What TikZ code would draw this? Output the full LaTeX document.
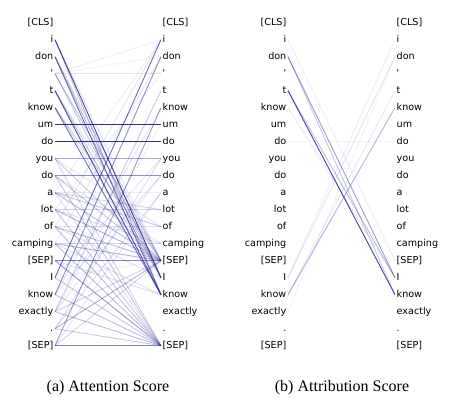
\documentclass[tikz,border=0pt]{standalone}
\usepackage{fontspec}
\setmainfont{Liberation Serif}
\setsansfont{DejaVu Sans}
\definecolor{lncol}{RGB}{35,35,150}
\tikzset{
  tokl/.style={anchor=east,inner sep=1.5pt,font=\sffamily\fontsize{9.6}{10}\selectfont,text height=7pt,text depth=2pt},
  tokr/.style={anchor=west,inner sep=1.5pt,font=\sffamily\fontsize{9.6}{10}\selectfont,text height=7pt,text depth=2pt},
  ln/.style={draw=lncol,line width=0.9pt},
  captxt/.style={font=\rmfamily\fontsize{16}{18}\selectfont,inner sep=0pt}
}
\newcommand\lnA[3]{\draw[ln,opacity=#3] (la#1.east) -- (ra#2.west);}
\newcommand\lnB[3]{\draw[ln,opacity=#3] (lb#1.east) -- (rb#2.west);}
\begin{document}
\begin{tikzpicture}[x=1pt,y=-1pt]
\fill[white] (0,0) rectangle (453,406);
\useasboundingbox (0,0) rectangle (453,406);
\foreach \t [count=\k from 0] in {[CLS],i,don,\textquotesingle,t,know,um,do,you,do,a,lot,of,camping,[SEP],I,know,exactly,.,[SEP]}{
  \node[tokl] (la\k) at (55,22.7+17*\k) {\t};
  \node[tokr] (ra\k) at (161,22.7+17*\k) {\t};
  \node[tokl] (lb\k) at (288,22.7+17*\k) {\t};
  \node[tokr] (rb\k) at (395,22.7+17*\k) {\t};
}
% ---- (a) attention score ----
\lnA{1}{15}{.85}\lnA{1}{16}{.3}\lnA{1}{14}{.12}
\lnA{2}{16}{.65}\lnA{2}{15}{.35}\lnA{2}{14}{.2}
\lnA{3}{14}{.3}\lnA{3}{15}{.25}\lnA{3}{1}{.08}\lnA{3}{2}{.06}\lnA{3}{3}{.12}
\lnA{4}{16}{.8}\lnA{4}{15}{.3}\lnA{4}{14}{.15}
\lnA{5}{16}{.65}\lnA{5}{14}{.25}\lnA{5}{15}{.15}
\lnA{6}{6}{.95}
\lnA{7}{7}{.95}
\lnA{8}{8}{.4}\lnA{8}{14}{.25}\lnA{8}{19}{.2}\lnA{8}{12}{.12}
\lnA{9}{9}{.5}\lnA{9}{14}{.25}\lnA{9}{19}{.25}\lnA{9}{13}{.12}
\lnA{10}{10}{.08}\lnA{10}{14}{.3}\lnA{10}{12}{.25}\lnA{10}{11}{.2}\lnA{10}{19}{.15}\lnA{10}{1}{.08}
\lnA{11}{11}{.2}\lnA{11}{14}{.35}\lnA{11}{19}{.25}\lnA{11}{13}{.15}\lnA{11}{3}{.08}
\lnA{12}{12}{.15}\lnA{12}{14}{.3}\lnA{12}{19}{.3}\lnA{12}{15}{.15}\lnA{12}{1}{.12}
\lnA{13}{13}{.2}\lnA{13}{14}{.35}\lnA{13}{19}{.3}\lnA{13}{16}{.15}\lnA{13}{2}{.1}
\lnA{14}{14}{.55}\lnA{14}{19}{.45}\lnA{14}{16}{.15}
\lnA{15}{1}{.65}\lnA{15}{19}{.25}\lnA{15}{8}{.12}\lnA{15}{14}{.08}
\lnA{16}{2}{.5}\lnA{16}{19}{.3}\lnA{16}{5}{.12}\lnA{16}{9}{.12}
\lnA{17}{4}{.25}\lnA{17}{19}{.3}\lnA{17}{14}{.2}\lnA{17}{9}{.12}\lnA{17}{6}{.08}
\lnA{18}{14}{.35}\lnA{18}{19}{.25}\lnA{18}{8}{.15}\lnA{18}{10}{.15}
\lnA{19}{19}{.55}\lnA{19}{5}{.45}\lnA{19}{14}{.2}\lnA{19}{10}{.12}
% ---- (b) attribution score ----
\lnB{2}{15}{.45}\lnB{2}{16}{.25}
\lnB{4}{16}{.85}\lnB{4}{15}{.3}
\lnB{1}{14}{.08}\lnB{5}{15}{.1}
\lnB{15}{1}{.08}\lnB{15}{2}{.12}
\lnB{16}{5}{.35}\lnB{16}{4}{.1}
\lnB{17}{2}{.06}\lnB{7}{7}{.06}
% ---- captions ----
\node[captxt] (capa) at (108,388) {(a) Attention Score};
\node[captxt] (capb) at (342,388) {(b) Attribution Score};
\end{tikzpicture}
\end{document}
